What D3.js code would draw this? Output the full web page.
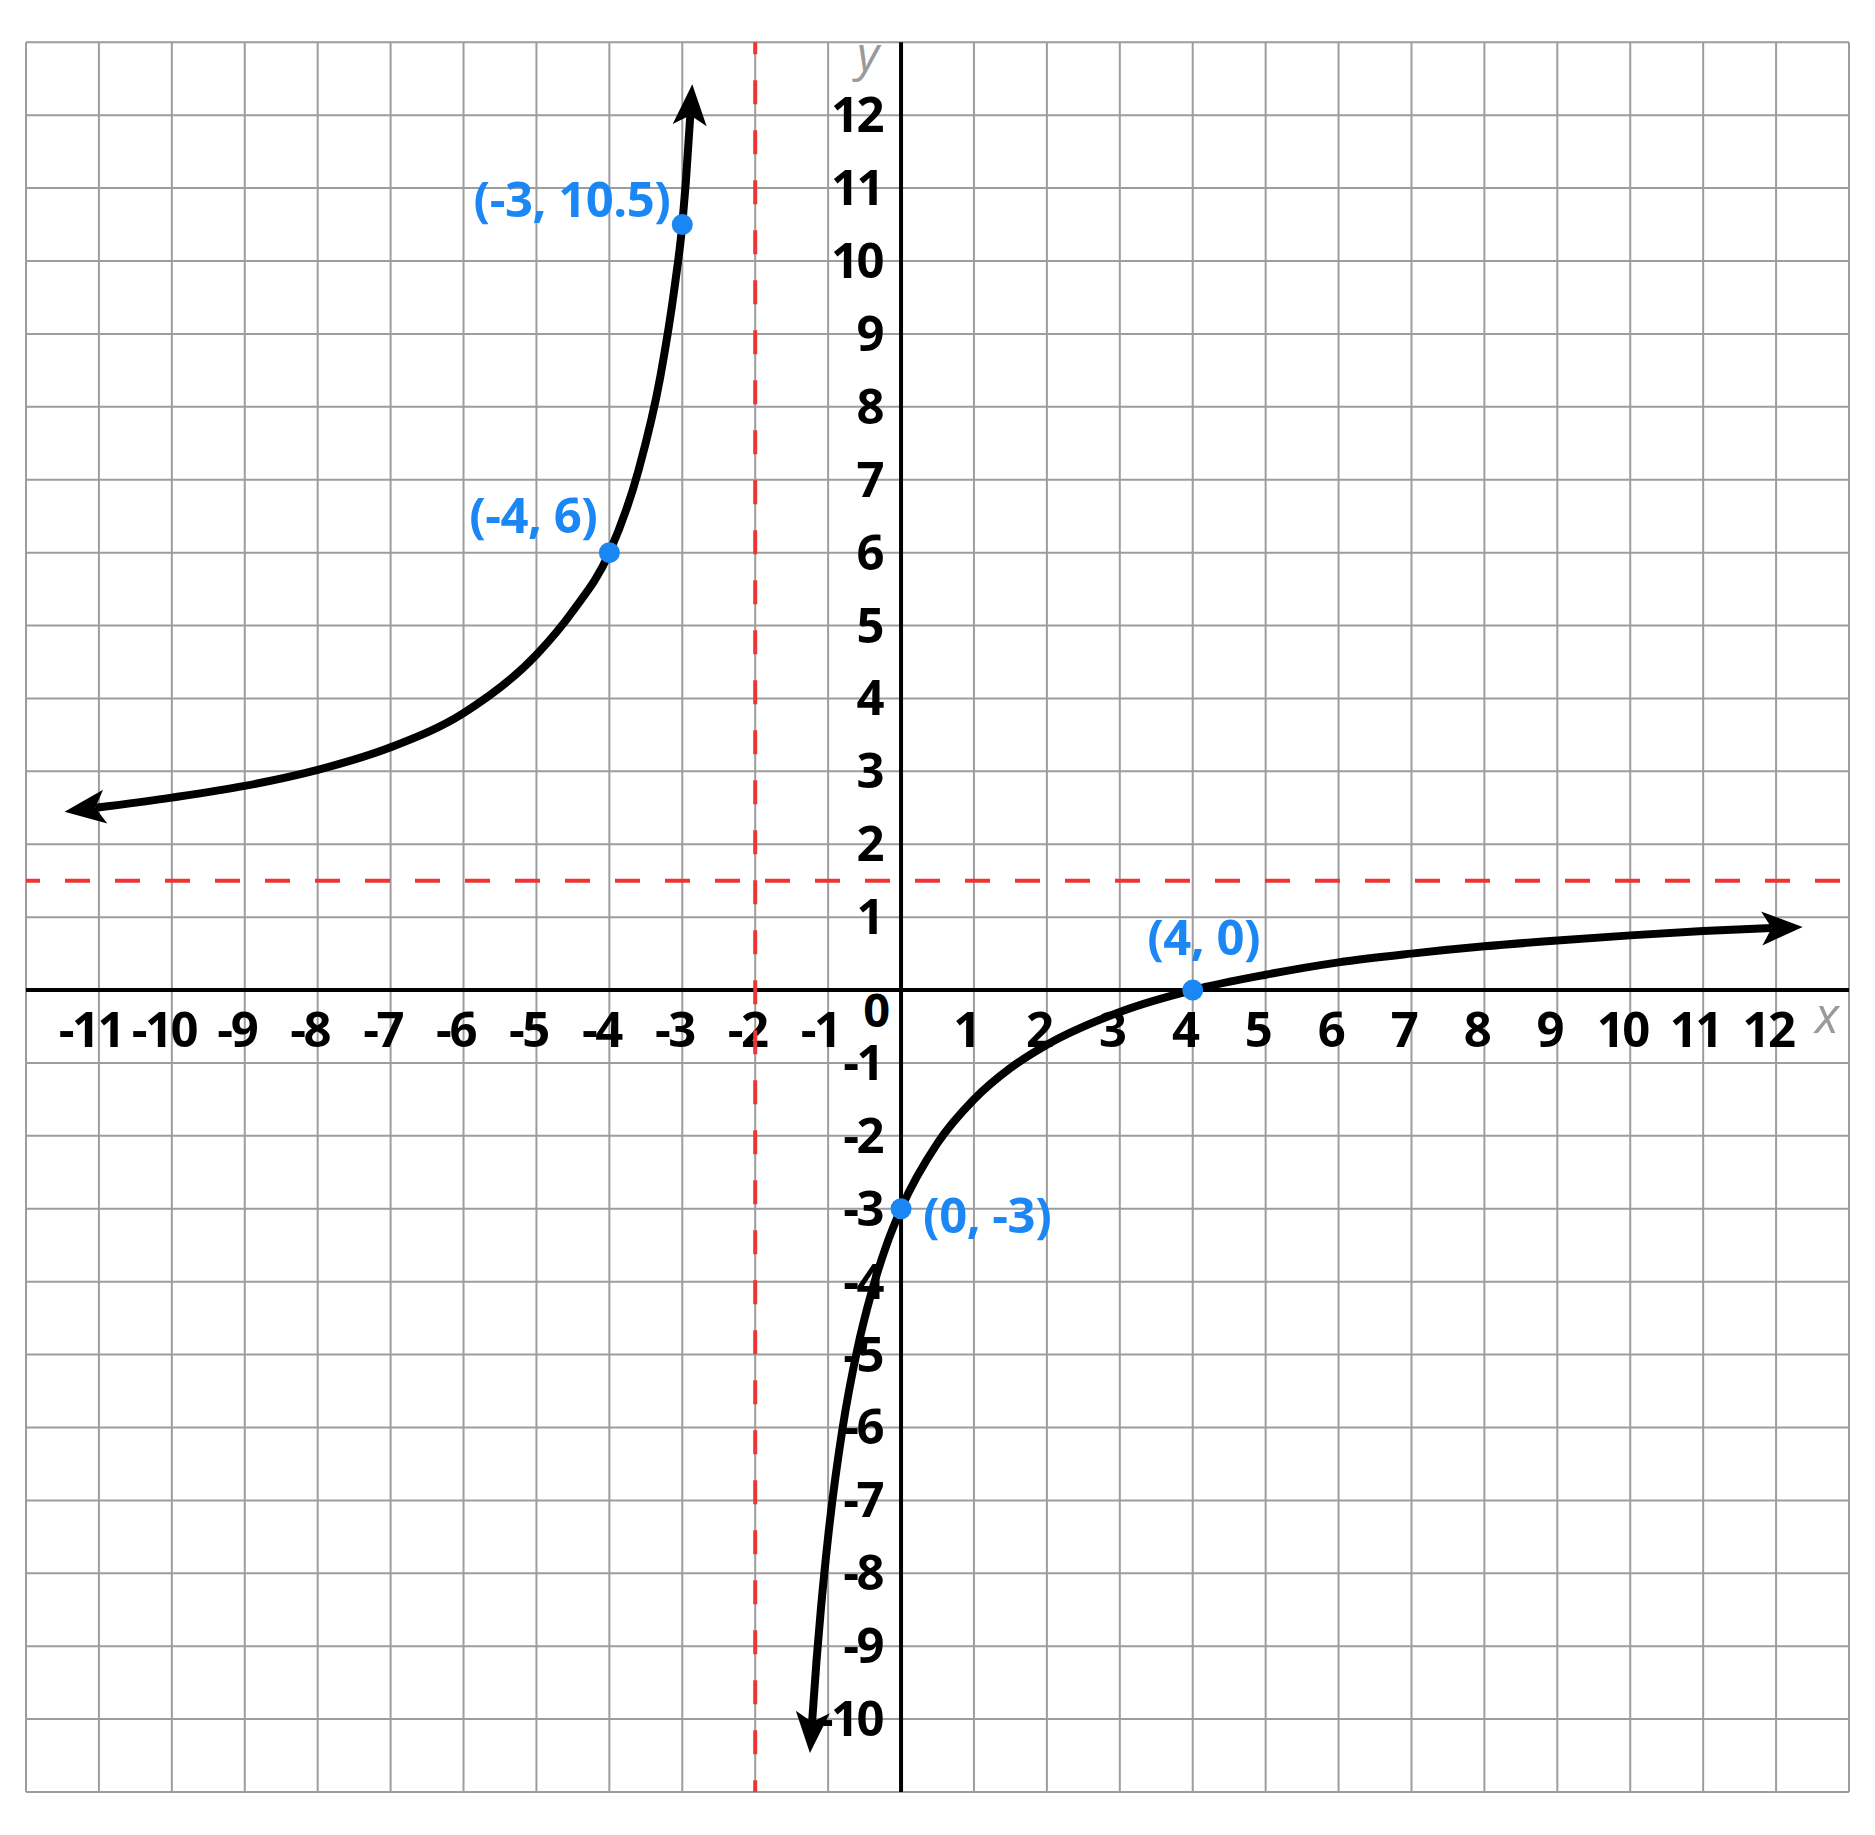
<!DOCTYPE html>
<html>
<head>
<meta charset="utf-8">
<script src="https://cdn.jsdelivr.net/npm/d3@7"></script>
<style>
html,body{margin:0;padding:0;background:#fff;}
svg{display:block;}
</style>
</head>
<body>
<script>
// ---------- data ----------
const xGrid = [-12,-11,-10,-9,-8,-7,-6,-5,-4,-3,-2,-1,0,1,2,3,4,5,6,7,8,9,10,11,12,13];
const yGrid = [-11,-10,-9,-8,-7,-6,-5,-4,-3,-2,-1,0,1,2,3,4,5,6,7,8,9,10,11,12,13];
const xTickLabels = [-11,-10,-9,-8,-7,-6,-5,-4,-3,-2,-1,1,2,3,4,5,6,7,8,9,10,11,12];
const yTickLabels = [-10,-9,-8,-7,-6,-5,-4,-3,-2,-1,1,2,3,4,5,6,7,8,9,10,11,12];

const leftBranchX = [-11.05,-10,-9,-8,-7,-6,-5,-4.5,-4,-3.6,-3.3,-3.1,-3,-2.95,-2.89];
const leftBranchY = [2.5,2.64,2.8,3.02,3.33,3.8,4.6,5.2,6,7.13,8.42,9.68,10.5,11.1,12.0];

const rightBranchX = [-1.22,-1.16,-1.1,-1,-0.8,-0.6,-0.4,-0.2,0,0.5,1,1.5,2,3,4,5,6,7,8,9,10,11,11.94];
const rightBranchY = [-10.04,-9.21,-8.5,-7.5,-6.0,-4.93,-4.13,-3.5,-3,-2.1,-1.5,-1.07,-0.75,-0.3,0,0.21,0.38,0.5,0.6,0.68,0.75,0.81,0.85];

const pointX = [-3,-4,4,0];
const pointY = [10.5,6,0,-3];
const pointLabels = ["(-3, 10.5)","(-4, 6)","(4, 0)","(0, -3)"];

const asymptoteX = -2;
const asymptoteY = 1.5;

// ---------- layout / style ----------
const W = 1875, H = 1835;
const plot = {left: 26, right: 1849, top: 42.3, bottom: 1792};
const labelPlace = [
  {anchor: "end", dx: -12, dy: -7.5},
  {anchor: "end", dx: -12, dy: -20},
  {anchor: "middle", dx: 11, dy: -35},
  {anchor: "start", dx: 22, dy: 24}
];
const gridColor = "#9d9d9d";
const red = "#ef3434";
const blue = "#1a87f4";
const font = "'Open Sans', 'Noto Sans', sans-serif";

const x = d3.scaleLinear().domain([-12, 13]).range([plot.left, plot.right]);
const y = d3.scaleLinear().domain([-11, 13]).range([plot.bottom, plot.top]);

const svg = d3.select("body").append("svg")
  .attr("width", W).attr("height", H)
  .attr("viewBox", `0 0 ${W} ${H}`);

svg.append("rect").attr("width", W).attr("height", H).attr("fill", "#fff");

// arrow marker
const defs = svg.append("defs");
defs.append("marker")
  .attr("id", "arrow")
  .attr("viewBox", "-12 -20 46 40")
  .attr("refX", 0).attr("refY", 0)
  .attr("markerWidth", 46).attr("markerHeight", 40)
  .attr("markerUnits", "userSpaceOnUse")
  .attr("orient", "auto-start-reverse")
  .append("path")
  .attr("d", "M31,0 L-10,-17 L0,0 L-10,17 Z")
  .attr("fill", "#000");

// grid
const grid = svg.append("g");
grid.selectAll("line.vx").data(xGrid).join("line")
  .attr("class", "vx")
  .attr("x1", d => x(d)).attr("x2", d => x(d))
  .attr("y1", y(13)).attr("y2", y(-11))
  .attr("stroke", gridColor).attr("stroke-width", 2);
grid.selectAll("line.hy").data(yGrid).join("line")
  .attr("class", "hy")
  .attr("y1", d => y(d)).attr("y2", d => y(d))
  .attr("x1", x(-12)).attr("x2", x(13))
  .attr("stroke", gridColor).attr("stroke-width", 2);

// axes
svg.append("line")
  .attr("x1", x(-12)).attr("x2", x(13))
  .attr("y1", y(0)).attr("y2", y(0))
  .attr("stroke", "#000").attr("stroke-width", 4);
svg.append("line")
  .attr("x1", x(0)).attr("x2", x(0))
  .attr("y1", y(13)).attr("y2", y(-11))
  .attr("stroke", "#000").attr("stroke-width", 4);

// tick labels
const tickG = svg.append("g")
  .attr("font-family", font).attr("font-weight", 700)
  .attr("font-size", 49).attr("fill", "#000");
tickG.selectAll("text.xt").data(xTickLabels).join("text")
  .attr("class", "xt")
  .attr("x", d => x(d) - 8)
  .attr("y", y(0) + 57)
  .attr("text-anchor", "middle")
  .attr("letter-spacing", -2.5)
  .text(d => d);
tickG.selectAll("text.yt").data(yTickLabels).join("text")
  .attr("class", "yt")
  .attr("x", x(0) - 19)
  .attr("y", d => y(d) + 17)
  .attr("text-anchor", "end")
  .attr("letter-spacing", -2.5)
  .text(d => d);
tickG.append("text")
  .attr("x", x(0) - 11)
  .attr("y", y(0) + 37)
  .attr("text-anchor", "end")
  .attr("font-size", 47)
  .text("0");

// axis names
svg.append("text")
  .attr("x", x(0) - 33).attr("y", y(13) + 29)
  .attr("text-anchor", "middle")
  .attr("font-family", font).attr("font-style", "italic")
  .attr("font-size", 48).attr("fill", "#9a9a9a")
  .text("y");
svg.append("text")
  .attr("x", x(13) - 22).attr("y", y(0) + 43)
  .attr("text-anchor", "middle")
  .attr("font-family", font).attr("font-style", "italic")
  .attr("font-size", 50).attr("fill", "#9a9a9a")
  .text("x");

// asymptotes
svg.append("line")
  .attr("x1", x(asymptoteX)).attr("x2", x(asymptoteX))
  .attr("y1", y(13)).attr("y2", y(-11))
  .attr("stroke", red).attr("stroke-width", 4)
  .attr("stroke-dasharray", "24 26").attr("stroke-dashoffset", 12);
svg.append("line")
  .attr("x1", x(-12)).attr("x2", x(13))
  .attr("y1", y(asymptoteY)).attr("y2", y(asymptoteY))
  .attr("stroke", red).attr("stroke-width", 4)
  .attr("stroke-dasharray", "25 25").attr("stroke-dashoffset", 11);

// curve
const line = d3.line()
  .x(d => x(d[0])).y(d => y(d[1]))
  .curve(d3.curveMonotoneX);
const branches = [
  d3.zip(leftBranchX, leftBranchY),
  d3.zip(rightBranchX, rightBranchY)
];
svg.selectAll("path.branch").data(branches).join("path")
  .attr("class", "branch")
  .attr("d", line)
  .attr("fill", "none")
  .attr("stroke", "#000")
  .attr("stroke-width", 8)
  .attr("marker-start", "url(#arrow)")
  .attr("marker-end", "url(#arrow)");

// points
const pts = pointX.map((px, i) => ({x: px, y: pointY[i], label: pointLabels[i], place: labelPlace[i]}));
svg.selectAll("circle.pt").data(pts).join("circle")
  .attr("class", "pt")
  .attr("cx", d => x(d.x)).attr("cy", d => y(d.y))
  .attr("r", 10.5).attr("fill", blue);
svg.selectAll("text.pl").data(pts).join("text")
  .attr("class", "pl")
  .attr("x", d => x(d.x) + d.place.dx)
  .attr("y", d => y(d.y) + d.place.dy)
  .attr("text-anchor", d => d.place.anchor)
  .attr("font-family", font).attr("font-weight", 700)
  .attr("font-size", 49).attr("fill", blue)
  .attr("letter-spacing", -0.5)
  .text(d => d.label);
</script>
</body>
</html>
